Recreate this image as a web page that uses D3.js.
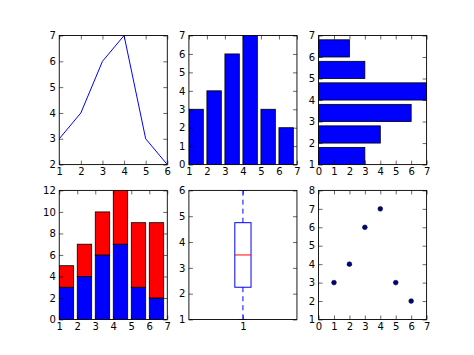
<!DOCTYPE html>
<html><head><meta charset="utf-8">
<script src="https://cdn.jsdelivr.net/npm/d3@7"></script>
<style>body{margin:0;background:#fff}svg{display:block}text{font-family:"DejaVu Sans",sans-serif}</style>
</head><body><svg id="c" width="474" height="355"></svg>
<script>
const xs = [1, 2, 3, 4, 5, 6];
const ys = [3, 4, 6, 7, 3, 2];
const ys2 = [2, 3, 4, 5, 6, 7];
const boxData = [1, 2, 3, 4, 5, 6];
const ticks1to7 = [1, 2, 3, 4, 5, 6, 7];
const ticks0to7 = [0, 1, 2, 3, 4, 5, 6, 7];
const ticks2to7 = [2, 3, 4, 5, 6, 7];
const ticks0to12 = [0, 2, 4, 6, 8, 10, 12];
const ticks1to8 = [1, 2, 3, 4, 5, 6, 7, 8];

const W = 474, H = 355;
const svg = d3.select("#c");
const L = 0.125 * W, R = 0.9 * W, T = 0.1 * H, B = 0.9 * H;
const aw = (R - L) / 3.4, ah = (B - T) / 2.2;
let clipId = 0;

function makeAx(col, row, xd, yd, xt, yt, xfmt) {
  const x0 = L + col * aw * 1.2, y0 = T + row * ah * 1.2;
  const g = svg.append("g").attr("transform", `translate(${x0},${y0})`);
  const x = d3.scaleLinear().domain(xd).range([0, aw]);
  const y = d3.scaleLinear().domain(yd).range([ah, 0]);
  const id = "clip" + (clipId++);
  g.append("clipPath").attr("id", id).append("rect").attr("width", aw).attr("height", ah);
  const plot = g.append("g").attr("clip-path", `url(#${id})`);
  const finish = () => {
    const ts = 4;
    const axB = d3.axisBottom(x).tickValues(xt).tickSize(-ts).tickPadding(3.5).tickFormat(xfmt || d3.format("d"));
    const axT = d3.axisTop(x).tickValues(xt).tickSize(-ts).tickFormat("");
    const axLf = d3.axisLeft(y).tickValues(yt).tickSize(-ts).tickPadding(3.5).tickFormat(d3.format("d"));
    const axRt = d3.axisRight(y).tickValues(yt).tickSize(-ts).tickFormat("");
    const styl = s => { s.select(".domain").remove(); s.selectAll("line").attr("stroke", "#000").attr("stroke-width", 0.6); s.selectAll("text").attr("font-size", 10).attr("fill", "#000"); };
    g.append("g").attr("transform", `translate(0,${ah})`).call(axB).call(styl);
    g.append("g").call(axT).call(styl);
    g.append("g").call(axLf).call(styl);
    g.append("g").attr("transform", `translate(${aw},0)`).call(axRt).call(styl);
    g.append("rect").attr("width", aw).attr("height", ah).attr("fill", "none").attr("stroke", "#000").attr("stroke-width", 0.9);
  };
  return { g: plot, x, y, finish };
}

// 1: line
{
  const a = makeAx(0, 0, [1, 6], [2, 7], xs, ticks2to7);
  a.g.append("path").datum(xs.map((v, i) => [v, ys[i]]))
    .attr("d", d3.line().x(d => a.x(d[0])).y(d => a.y(d[1])))
    .attr("fill", "none").attr("stroke", "#0000ff").attr("stroke-width", 1);
  a.finish();
}
// 2: bar
{
  const a = makeAx(1, 0, [1, 7], [0, 7], ticks1to7, ticks0to7);
  a.g.selectAll("rect.b").data(xs).enter().append("rect")
    .attr("x", d => a.x(d)).attr("width", a.x(1.8) - a.x(1))
    .attr("y", (d, i) => a.y(ys[i])).attr("height", (d, i) => a.y(0) - a.y(ys[i]))
    .attr("fill", "#0000ff").attr("stroke", "#000").attr("stroke-width", 0.8);
  a.finish();
}
// 3: barh
{
  const a = makeAx(2, 0, [0, 7], [1, 7], ticks0to7, ticks1to7);
  a.g.selectAll("rect.b").data(xs).enter().append("rect")
    .attr("y", d => a.y(d + 0.8)).attr("height", a.y(1) - a.y(1.8))
    .attr("x", a.x(0)).attr("width", (d, i) => a.x(ys[i]) - a.x(0))
    .attr("fill", "#0000ff").attr("stroke", "#000").attr("stroke-width", 0.8);
  a.finish();
}
// 4: stacked bar
{
  const a = makeAx(0, 1, [1, 7], [0, 12], ticks1to7, ticks0to12);
  a.g.selectAll("rect.b").data(xs).enter().append("rect")
    .attr("x", d => a.x(d)).attr("width", a.x(1.8) - a.x(1))
    .attr("y", (d, i) => a.y(ys[i])).attr("height", (d, i) => a.y(0) - a.y(ys[i]))
    .attr("fill", "#0000ff").attr("stroke", "#000").attr("stroke-width", 0.8);
  a.g.selectAll("rect.r").data(xs).enter().append("rect")
    .attr("x", d => a.x(d)).attr("width", a.x(1.8) - a.x(1))
    .attr("y", (d, i) => a.y(ys[i] + ys2[i])).attr("height", (d, i) => a.y(ys[i]) - a.y(ys[i] + ys2[i]))
    .attr("fill", "#ff0000").attr("stroke", "#000").attr("stroke-width", 0.8);
  a.finish();
}
// 5: boxplot
{
  const a = makeAx(1, 1, [0.5, 1.5], [1, 6], [1], [1, 2, 3, 4, 5, 6]);
  const s = boxData.slice().sort(d3.ascending);
  const q1 = d3.quantile(s, 0.25), med = d3.quantile(s, 0.5), q3 = d3.quantile(s, 0.75);
  const lo = d3.min(s), hi = d3.max(s);
  const hw = 0.075;
  const cx = a.x(1);
  a.g.append("line").attr("x1", cx).attr("x2", cx).attr("y1", a.y(q3)).attr("y2", a.y(hi)).attr("stroke", "#0000ff").attr("stroke-dasharray", "5,4");
  a.g.append("line").attr("x1", cx).attr("x2", cx).attr("y1", a.y(q1)).attr("y2", a.y(lo)).attr("stroke", "#0000ff").attr("stroke-dasharray", "5,4");
  [lo, hi].forEach(v => a.g.append("line").attr("x1", a.x(1 - hw / 2)).attr("x2", a.x(1 + hw / 2)).attr("y1", a.y(v)).attr("y2", a.y(v)).attr("stroke", "#000"));
  a.g.append("rect").attr("x", a.x(1 - hw)).attr("width", a.x(1 + hw) - a.x(1 - hw))
    .attr("y", a.y(q3)).attr("height", a.y(q1) - a.y(q3)).attr("fill", "none").attr("stroke", "#0000ff").attr("stroke-width", 1);
  a.g.append("line").attr("x1", a.x(1 - hw)).attr("x2", a.x(1 + hw)).attr("y1", a.y(med)).attr("y2", a.y(med)).attr("stroke", "#ff0000").attr("stroke-width", 1);
  a.finish();
}
// 6: scatter
{
  const a = makeAx(2, 1, [0, 7], [1, 8], ticks0to7, ticks1to8);
  a.g.selectAll("circle").data(xs).enter().append("circle")
    .attr("cx", d => a.x(d)).attr("cy", (d, i) => a.y(ys[i])).attr("r", 2.4)
    .attr("fill", "#00008b").attr("stroke", "#000").attr("stroke-width", 0.5);
  a.finish();
}
</script></body></html>
